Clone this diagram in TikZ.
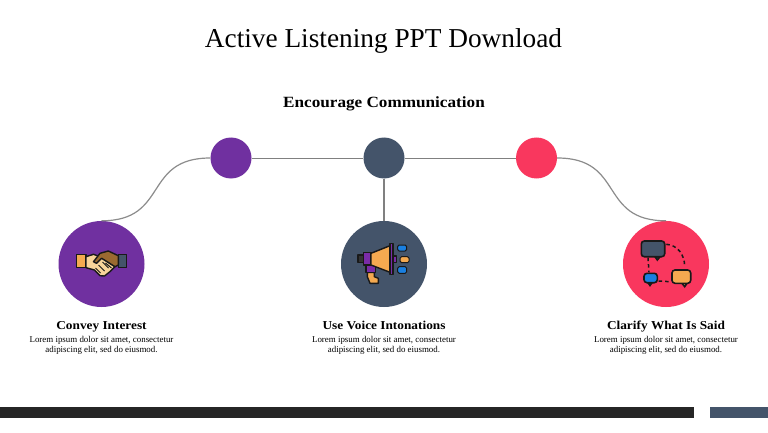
\documentclass[tikz,border=0pt]{standalone}
\usepackage{fontspec}
\setmainfont{Liberation Serif}
\newfontfamily\widefont[FakeStretch=1.1]{Liberation Serif}
\usetikzlibrary{calc,positioning}
\definecolor{purp}{HTML}{7030A0}
\definecolor{slate}{HTML}{44546A}
\definecolor{rosered}{HTML}{F9375E}
\definecolor{barblack}{HTML}{262626}
\definecolor{orng}{HTML}{F4A950}
\definecolor{skin}{HTML}{F8D49A}
\definecolor{brwn}{HTML}{9A6A30}
\definecolor{blu}{HTML}{1A7FE0}
\definecolor{violet2}{HTML}{7A2CA8}
\tikzset{
	dot/.style={circle,minimum size=41pt,inner sep=0pt},
	bigdot/.style={circle,minimum size=86pt,inner sep=0pt},
	link/.style={draw=black!50,line width=1pt},
	headtext/.style={font=\widefont\fontsize{12.1}{14}\selectfont\bfseries,inner sep=0pt,anchor=base},
	bodytext/.style={font=\fontsize{8.9}{10}\selectfont,align=center,inner sep=0pt,anchor=north},
	icon/.style={draw=black!90,line width=1.4pt,line join=round},
	chat/.style={draw=black!90,line width=1.6pt,rounded corners=3pt},
	trail/.style={draw=black!90,line width=1.5pt,dash pattern=on 3.5pt off 3pt},
}
\begin{document}
\begin{tikzpicture}[x=1pt,y=-1pt]
	\useasboundingbox (0,0) rectangle (768,433);
	\fill[white] (0,0) rectangle (768,433);
	\node[font=\fontsize{27.3}{30}\selectfont,inner sep=0pt] (title) at (383.5,41) {Active Listening PPT Download};
	\node[font=\widefont\fontsize{15.6}{17}\selectfont\bfseries,inner sep=0pt] (sub) at (384,104) {Encourage Communication};
	% top row
	\node[dot,fill=purp] (top1) at (231,158) {};
	\node[dot,fill=slate] (top2) at (384,158) {};
	\node[dot,fill=rosered] (top3) at (536.5,158) {};
	% big circles
	\node[bigdot,fill=purp] (big1) at (101.5,264) {};
	\node[bigdot,fill=slate] (big2) at (384,264) {};
	\node[bigdot,fill=rosered] (big3) at (666,264) {};
	% connectors
	\draw[link] (top1) -- (top2);
	\draw[link] (top2) -- (top3);
	\draw[link,line width=1.5pt] (top2) -- (big2);
	\draw[link,draw=black!45,line width=1.2pt] (top1.west) .. controls ($(top1.west)+(-68,0)$) and ($(big1.north)+(68,0)$) .. (big1.north);
	\draw[link,draw=black!45,line width=1.2pt] (top3.east) .. controls ($(top3.east)+(68,0)$) and ($(big3.north)+(-68,0)$) .. (big3.north);
	% handshake
	\begin{scope}[shift={(big1.center)}]
		\fill[icon,fill=orng] (-24.8,-9.7) rectangle (-15.5,3.7);
		\fill[icon,fill=slate] (16.8,-9.7) rectangle (25.2,3.7);
		\fill[icon,fill=skin] (-15.5,-7.3) -- (-8,-9.7) -- (-1.5,-7.3) -- (13.5,2.7) -- (8,8) -- (3,12) -- (-1.5,11.7) -- (-7,6) -- (-15.5,3.7) -- cycle;
		\fill[icon,fill=brwn] (16.8,-8.3) -- (6.8,-13) -- (-1.5,-10.7) -- (-8,-2.3) -- (-5,-0.7) -- (0.2,-5.7) -- (13.5,2.7) -- (16.8,1) -- cycle;
		\draw[icon,line width=1pt] (-6,4) -- (-1,9) (-3,1) -- (3,7) (1,-2) -- (7,4) (4,-1) -- (10,4);
	\end{scope}
	% megaphone
	\begin{scope}[shift={(big2.center)}]
		\fill[icon,fill=orng] (-16.7,8.3) -- (-9.7,8.3) -- (-9.7,12.7) -- (-5.7,14.3) -- (-5.7,19.3) -- (-14,19.3) -- (-16.7,12.7) -- cycle;
		\fill[icon,fill=violet2] (-18,1) rectangle (-8.3,8.3);
		\fill[icon,fill=black!80] (-26,-9) rectangle (-20.7,-1.7);
		\fill[icon,fill=violet2] (-20.7,-11.3) rectangle (-13,1);
		\fill[icon,fill=orng] (-13,-10.7) -- (6,-18.3) -- (6,8.3) -- (-13,1) -- cycle;
		\fill[icon,fill=violet2] (9,-8) rectangle (12.7,-1.7);
		\fill[icon,fill=violet2] (6,-20.7) rectangle (9,10.3);
		\fill[icon,fill=blu,rounded corners=1.5pt,line width=1pt] (13.7,-19) rectangle (22.7,-13);
		\fill[icon,fill=orng,rounded corners=1.5pt,line width=1pt] (16,-7.3) rectangle (25,-1.3);
		\fill[icon,fill=blu,rounded corners=1.5pt,line width=1pt] (13.7,2.7) rectangle (22.7,9.3);
	\end{scope}
	% speech bubbles
	\begin{scope}[shift={(big3.center)}]
		\draw[trail] (0.3,-19.7) .. controls (11,-19) and (18.7,-10) .. (18.7,2.7);
		\draw[trail] (-18,-6.3) -- (-17,8.3);
		\draw[trail] (-7.3,17) -- (3.7,17.7);
		\fill[chat,fill=slate,rounded corners=0pt] (-11,-7.3) -- (-8.7,-4) -- (-6,-7.3) -- cycle;
		\fill[chat,fill=slate] (-24.7,-23) rectangle (-1.3,-7.3);
		\fill[chat,fill=blu,rounded corners=0pt] (-18,18.7) -- (-16,21.5) -- (-14,18.7) -- cycle;
		\fill[chat,fill=blu] (-22,9.3) rectangle (-8.7,18.7);
		\fill[chat,fill=orng,rounded corners=0pt] (16,19.3) -- (18.7,22.7) -- (21,19.3) -- cycle;
		\fill[chat,fill=orng] (6,6) rectangle (24.7,19.3);
	\end{scope}
	% captions
	\node[headtext] (head1) at (101.5,329.5) {Convey Interest};
	\node[bodytext] (text1) at (101.5,336.5) {Lorem ipsum dolor sit amet, consectetur\\adipiscing elit, sed do eiusmod.};
	\node[headtext] (head2) at (384,329.5) {Use Voice Intonations};
	\node[bodytext] (text2) at (384,336.5) {Lorem ipsum dolor sit amet, consectetur\\adipiscing elit, sed do eiusmod.};
	\node[headtext] (head3) at (666,329.5) {Clarify What Is Said};
	\node[bodytext] (text3) at (666,336.5) {Lorem ipsum dolor sit amet, consectetur\\adipiscing elit, sed do eiusmod.};
	% bottom bars
	\fill[barblack] (0,407) rectangle (694,418);
	\fill[slate] (710,407) rectangle (768,418);
\end{tikzpicture}
\end{document}
